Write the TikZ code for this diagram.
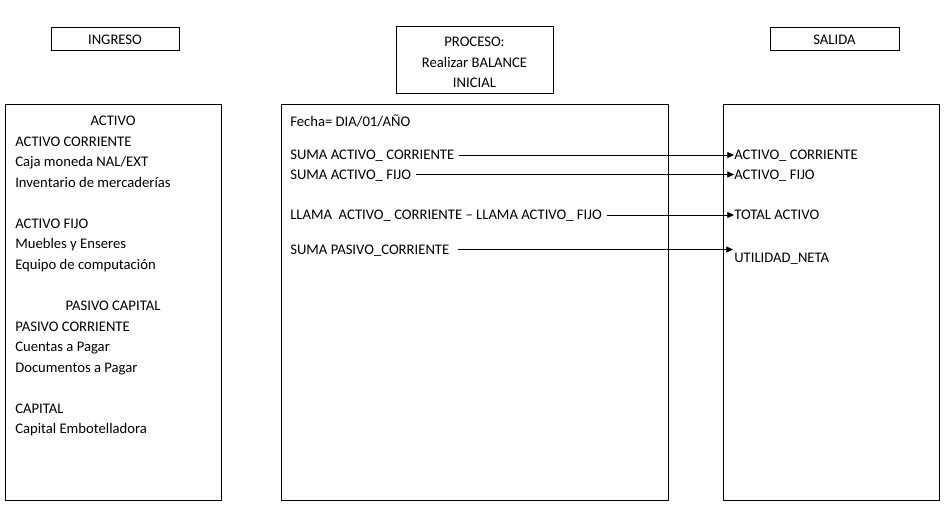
\documentclass[tikz,border=0pt]{standalone}
\usepackage{fontspec}
\setmainfont{Carlito}
\usetikzlibrary{arrows.meta}

\begin{document}
\begin{tikzpicture}[x=0.75pt,y=-0.75pt,
    every node/.style={font=\fontsize{11}{15.4}\selectfont},
    txt/.style={anchor=west, inner sep=0pt, text height=7pt, text depth=0pt},
    flow/.style={-{Triangle[length=5pt,width=4.5pt]}, line width=0.6pt, shorten <=3.5pt}]
\useasboundingbox (0,0) rectangle (947,520);

\begin{scope}[every node/.style={draw, line width=0.75pt, shape=rectangle, inner sep=0pt, outer sep=0pt, align=center, font=\fontsize{11}{15.4}\selectfont}]
    \path (115,39.5) node[minimum width=96pt, minimum height=17.25pt] (ingreso) {INGRESO};
    \path (474.5,60.5) node[minimum width=117.75pt, minimum height=50.25pt] (proceso) {\rule{0pt}{10pt}PROCESO:\\Realizar BALANCE\\INICIAL};
    \path (834.5,39.5) node[minimum width=96.75pt, minimum height=17.25pt] (salida) {SALIDA};
    \path (113,303) node[minimum width=162pt, minimum height=297pt] (ingresoBox) {};
    \path (474.5,303) node[minimum width=290.25pt, minimum height=297pt] (procesoBox) {};
    \path (831,303) node[minimum width=162pt, minimum height=297pt] (salidaBox) {};
\end{scope}

% ingreso
\path (113,121) node[txt, anchor=center] (activo) {ACTIVO};
\path (15,141.5) node[txt] (actCorr) {ACTIVO CORRIENTE};
\path (actCorr.west) +(0,20.5) node[txt] (caja) {Caja moneda NAL/EXT};
\path (caja.west) +(0,20.5) node[txt] (invent) {Inventario de mercaderías};
\path (invent.west) +(0,41) node[txt] (actFijo) {ACTIVO FIJO};
\path (actFijo.west) +(0,20.5) node[txt] (muebles) {Muebles y Enseres};
\path (muebles.west) +(0,20.5) node[txt] (equipo) {Equipo de computación};
\path (113,306) node[txt, anchor=center] (pasCap) {PASIVO CAPITAL};
\path (15,326.5) node[txt] (pasCorr) {PASIVO CORRIENTE};
\path (pasCorr.west) +(0,20.5) node[txt] (cuentas) {Cuentas a Pagar};
\path (cuentas.west) +(0,20.5) node[txt] (docs) {Documentos a Pagar};
\path (docs.west) +(0,41) node[txt] (capital) {CAPITAL};
\path (capital.west) +(0,20.5) node[txt] (capEmb) {Capital Embotelladora};

% proceso
\path (290,122) node[txt] (fecha) {Fecha= DIA/01/AÑO};
\path (290,155) node[txt] (sumaAC) {SUMA ACTIVO\_ CORRIENTE};
\path (290,174.5) node[txt] (sumaAF) {SUMA ACTIVO\_ FIJO};
\path (290,215) node[txt] (llama) {LLAMA\ \ ACTIVO\_ CORRIENTE -- LLAMA ACTIVO\_ FIJO};
\path (290,249.5) node[txt] (sumaPC) {SUMA PASIVO\_CORRIENTE};

% salida
\path (734,155) node[txt] (outAC) {ACTIVO\_ CORRIENTE};
\path (734,174.5) node[txt] (outAF) {ACTIVO\_ FIJO};
\path (734,215) node[txt] (total) {TOTAL ACTIVO};
\path (734,258) node[txt] (utilidad) {UTILIDAD\_NETA};
\coordinate (utilIn) at (733,249.5);

\draw[flow] (sumaAC.east) -- (outAC.west);
\draw[flow] (sumaAF.east) -- (outAF.west);
\draw[flow] (llama.east) -- (total.west);
\draw[flow, shorten <=6pt] (sumaPC.east) -- (utilIn);

\end{tikzpicture}
\end{document}
